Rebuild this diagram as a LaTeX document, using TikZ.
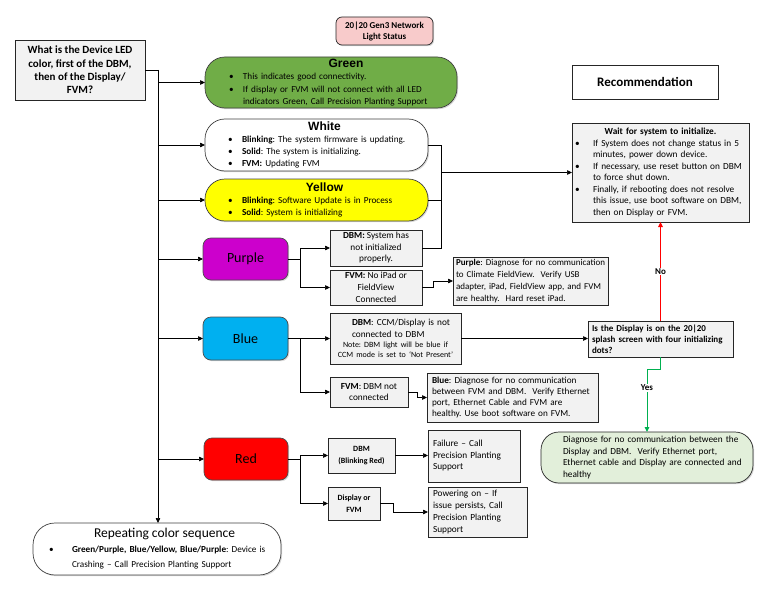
\documentclass[tikz,border=0pt]{standalone}
\usepackage{fontspec}
\setmainfont{Carlito}
\newfontfamily\hdfont{Liberation Sans}
\usetikzlibrary{arrows.meta,shadows}
\definecolor{gfill}{HTML}{70AD47}
\definecolor{yfill}{HTML}{FFFF00}
\definecolor{pfill}{HTML}{CC00CC}
\definecolor{bfill}{HTML}{00B0F0}
\definecolor{rfill}{HTML}{FF0000}
\definecolor{ttlpink}{HTML}{F8CBCB}
\definecolor{boxgray}{HTML}{F2F2F2}
\definecolor{diagg}{HTML}{E2EFDA}
\definecolor{yesg}{HTML}{00B050}
\newcommand\fsz[2]{\fontsize{#1}{#2}\selectfont}
\newcommand\hd{\hdfont\bfseries\fontsize{12}{13}\selectfont}
\newcommand\bitem[2][14pt]{\mbox{\makebox[#1][l]{\textbullet}#2}}
\newcommand\bcont[2][14pt]{\mbox{\hspace*{#1}#2}}
\frenchspacing
\begin{document}
\begin{tikzpicture}[x=1pt,y=-1pt,
  sh/.style={drop shadow={shadow xshift=1.2pt,shadow yshift=-1.2pt,opacity=0.3}},
  bx/.style={draw=black!85, line width=0.7pt, anchor=north west, inner sep=0pt, outer sep=0pt, sh},
  pill/.style={bx, draw=black!75, rounded corners=20pt, align=left},
  colbox/.style={bx, draw=black!70, rounded corners=8pt, font=\fsz{14}{16}},
  graybox/.style={bx, fill=boxgray},
  arr/.style={-{Triangle[length=5pt,width=4.5pt]}, line width=0.7pt},
  ln/.style={line width=0.7pt},
  lbl/.style={fill=white, text=black, font=\bfseries\fsz{9}{10}, inner sep=1pt}
]
\useasboundingbox (0,0) rectangle (768,594);

% title and question
\node[bx, fill=ttlpink, rounded corners=6pt, minimum width=97pt, minimum height=28pt, align=center, font=\bfseries\fsz{9}{11}] (title) at (336,17) {20|20 Gen3 Network\\Light Status};
\node[graybox, minimum width=130pt, minimum height=60pt, align=center, font=\bfseries\fsz{11}{13.3}] (q) at (15,40) {What is the Device LED\\color, first of the DBM,\\then of the Display/\\FVM?};

% colour states
\node[pill, fill=gfill, minimum width=252pt, minimum height=51pt, text width=204pt, font=\fsz{9.2}{12.3}] (green) at (205,57)
 {\makebox[\linewidth]{\hspace*{30pt}\hd Green}\par
  \bitem{This indicates good connectivity.}\\
  \bitem{If display or FVM will not connect with all LED}\\
  \bcont{indicators Green, Call Precision Planting Support}};
\node[pill, fill=white, minimum width=223pt, minimum height=52pt, text width=177pt, font=\fsz{9.2}{12}] (white) at (205,119)
 {\makebox[\linewidth]{\hspace*{16pt}\hd White}\par
  \bitem{\textbf{Blinking}: The system firmware is updating.}\\
  \bitem{\textbf{Solid}: The system is initializing.}\\
  \bitem{\textbf{FVM:} Updating FVM}};
\node[pill, fill=yfill, minimum width=223pt, minimum height=42pt, text width=177pt, font=\fsz{9.2}{12}] (yellow) at (205,179)
 {\makebox[\linewidth]{\hspace*{16pt}\hd Yellow}\par
  \bitem{\textbf{Blinking}: Software Update is in Process}\\
  \bitem{\textbf{Solid}: System is initializing}};
\node[colbox, fill=pfill, minimum width=85pt, minimum height=42pt] (purple) at (203,238) {Purple};
\node[colbox, fill=bfill, minimum width=85pt, minimum height=43pt] (blue) at (203,317) {Blue};
\node[colbox, fill=rfill, minimum width=84pt, minimum height=42pt] (red) at (204,438) {Red};
\node[pill, fill=white, rounded corners=22pt, minimum width=248pt, minimum height=52pt, text width=216pt, font=\fsz{9.2}{15}] (rep) at (33,523)
 {\hspace*{45pt}{\fsz{13.5}{15}Repeating color sequence}\par
  \bitem[23pt]{\textbf{Green/Purple, Blue/Yellow, Blue/Purple}: Device is}\\
  \bcont[23pt]{Crashing – Call Precision Planting Support}};

% purple branch
\node[graybox, minimum width=92pt, minimum height=36pt, align=center, font=\fsz{9.3}{11.5}] (pdbm) at (330,230) {\textbf{DBM:} System has\\not initialized\\properly.};
\node[graybox, minimum width=92pt, minimum height=35pt, align=center, font=\fsz{9.3}{11.8}] (pfvm) at (330,270) {\textbf{FVM:} No iPad or\\FieldView\\Connected};
\node[graybox, minimum width=155pt, minimum height=48pt, text width=149pt, align=left, font=\fsz{9}{12}] (pdiag) at (453,257)
 {\mbox{\textbf{Purple}: Diagnose for no communication}\\\mbox{to Climate FieldView.\ \ Verify USB}\\\mbox{adapter, iPad, FieldView app, and FVM}\\\mbox{are healthy.\ \ Hard reset iPad.}};

% blue branch
\node[graybox, minimum width=131pt, minimum height=51pt, text width=123pt, align=left, font=\fsz{9.3}{11.3}] (bdbm) at (330,313)
 {\hspace*{18pt}\mbox{\textbf{DBM}: CCM/Display is not}\\\hspace*{18pt}connected to DBM\par
  {\fsz{8}{10.3}\makebox[\linewidth]{Note: DBM light will be blue if}\\\makebox[\linewidth]{CCM mode is set to ‘Not Present’}\par}};
\node[graybox, minimum width=78pt, minimum height=30pt, align=center, font=\fsz{9.3}{11.5}] (bfvm) at (330,377) {\textbf{FVM}: DBM not\\connected};
\node[graybox, minimum width=171pt, minimum height=49pt, text width=161pt, align=left, font=\fsz{9.2}{11}] (bdiag) at (427,373)
 {\mbox{\textbf{Blue}: Diagnose for no communication}\\\mbox{between FVM and DBM.\ \ Verify Ethernet}\\\mbox{port, Ethernet Cable and FVM are}\\\mbox{healthy. Use boot software on FVM.}};

% red branch
\node[graybox, minimum width=67pt, minimum height=35pt, align=center, font=\bfseries\fsz{8}{11.5}] (rdbm) at (328,438) {DBM\\(Blinking Red)};
\node[graybox, minimum width=52pt, minimum height=33pt, align=center, font=\bfseries\fsz{8}{11.5}] (rdisp) at (328,487) {Display or\\FVM};
\node[graybox, minimum width=92pt, minimum height=52pt, text width=82pt, align=left, font=\fsz{9.3}{11.5}] (fail) at (428,430) {\mbox{Failure – Call}\\\mbox{Precision Planting}\\Support};
\node[graybox, minimum width=99pt, minimum height=50pt, text width=89pt, align=left, font=\fsz{9.3}{11.7}] (power) at (428,487) {\mbox{Powering on – If}\\\mbox{issue persists, Call}\\\mbox{Precision Planting}\\Support};

% right column
\node[bx, fill=white, minimum width=146pt, minimum height=34pt, font=\bfseries\fsz{13}{15}] (recom) at (572,65) {Recommendation};
\node[graybox, minimum width=177pt, minimum height=99pt, text width=171pt, align=left, font=\fsz{9.3}{11.5}] (wait) at (572,123)
 {\makebox[\linewidth]{\bfseries Wait for system to initialize.}\par
  \bitem[18pt]{If System does not change status in 5}\\
  \bcont[18pt]{minutes, power down device.}\\
  \bitem[18pt]{If necessary, use reset button on DBM}\\
  \bcont[18pt]{to force shut down.}\\
  \bitem[18pt]{Finally, if rebooting does not resolve}\\
  \bcont[18pt]{this issue, use boot software on DBM,}\\
  \bcont[18pt]{then on Display or FVM.}};
\node[graybox, minimum width=145pt, minimum height=36pt, text width=137pt, align=left, font=\bfseries\fsz{9}{11}] (splash) at (588,321)
 {\mbox{Is the Display is on the 20|20}\\\mbox{splash screen with four initializing}\\dots?};
\node[bx, fill=diagg, rounded corners=18pt, minimum width=212pt, minimum height=51pt, text width=168pt, align=left, font=\fsz{9.3}{11.7}] (diag) at (541,432)
 {\mbox{Diagnose for no communication between the}\\\mbox{Display and DBM.\ \ Verify Ethernet port,}\\\mbox{Ethernet cable and Display are connected and}\\healthy};

% connectors: trunk
\coordinate (trunk) at (158,70);
\draw[ln] (q.east) -- (trunk);
\draw[arr] (trunk) -- (trunk |- rep.north);
\foreach \n in {green,white,yellow,purple,blue,red}
  \draw[arr] (trunk |- \n.west) -- (\n.west);

% collector to wait box
\coordinate (cx) at (441,0);
\draw[ln] (white.east) -- (white.east -| cx) -- (pdbm.east -| cx) -- (pdbm.east);
\draw[ln] (yellow.east) -- (yellow.east -| cx);
\draw[arr] (wait.west -| cx) -- (wait.west);

% purple
\coordinate (pb) at (300,0);
\draw[ln] (purple.east) -- (purple.east -| pb);
\draw[arr] (purple.east -| pb) |- (pdbm.west);
\draw[arr] (purple.east -| pb) |- (pfvm.west);
\draw[arr] (pfvm.east) -- ++(11,0) |- (pdiag.west);

% blue
\draw[ln] (blue.east) -- (blue.east -| pb);
\draw[arr] (blue.east -| pb) |- (bdbm.west);
\draw[arr] (blue.east -| pb) |- (bfvm.west);
\draw[arr] (bdbm.east) -- (bdbm.east -| splash.west);
\draw[arr] (bfvm.east) -- ++(9,0) |- (bdiag.west);

% red
\draw[ln] (red.east) -- (red.east -| pb);
\draw[arr] (red.east -| pb) |- (rdbm.west);
\draw[arr] (red.east -| pb) |- (rdisp.west);
\draw[arr] (rdbm.east) -- (rdbm.east -| fail.west);
\draw[arr] (rdisp.east) -- ++(13,0) |- (power.west);

% decision
\draw[arr, color=red, line width=1pt] (splash.north) -- node[lbl] {No} (wait.south);
\draw[arr, color=yesg, line width=1pt] (splash.south) -- ++(0,12) -| node[lbl, pos=0.65] {Yes} (diag.north);
\end{tikzpicture}
\end{document}
